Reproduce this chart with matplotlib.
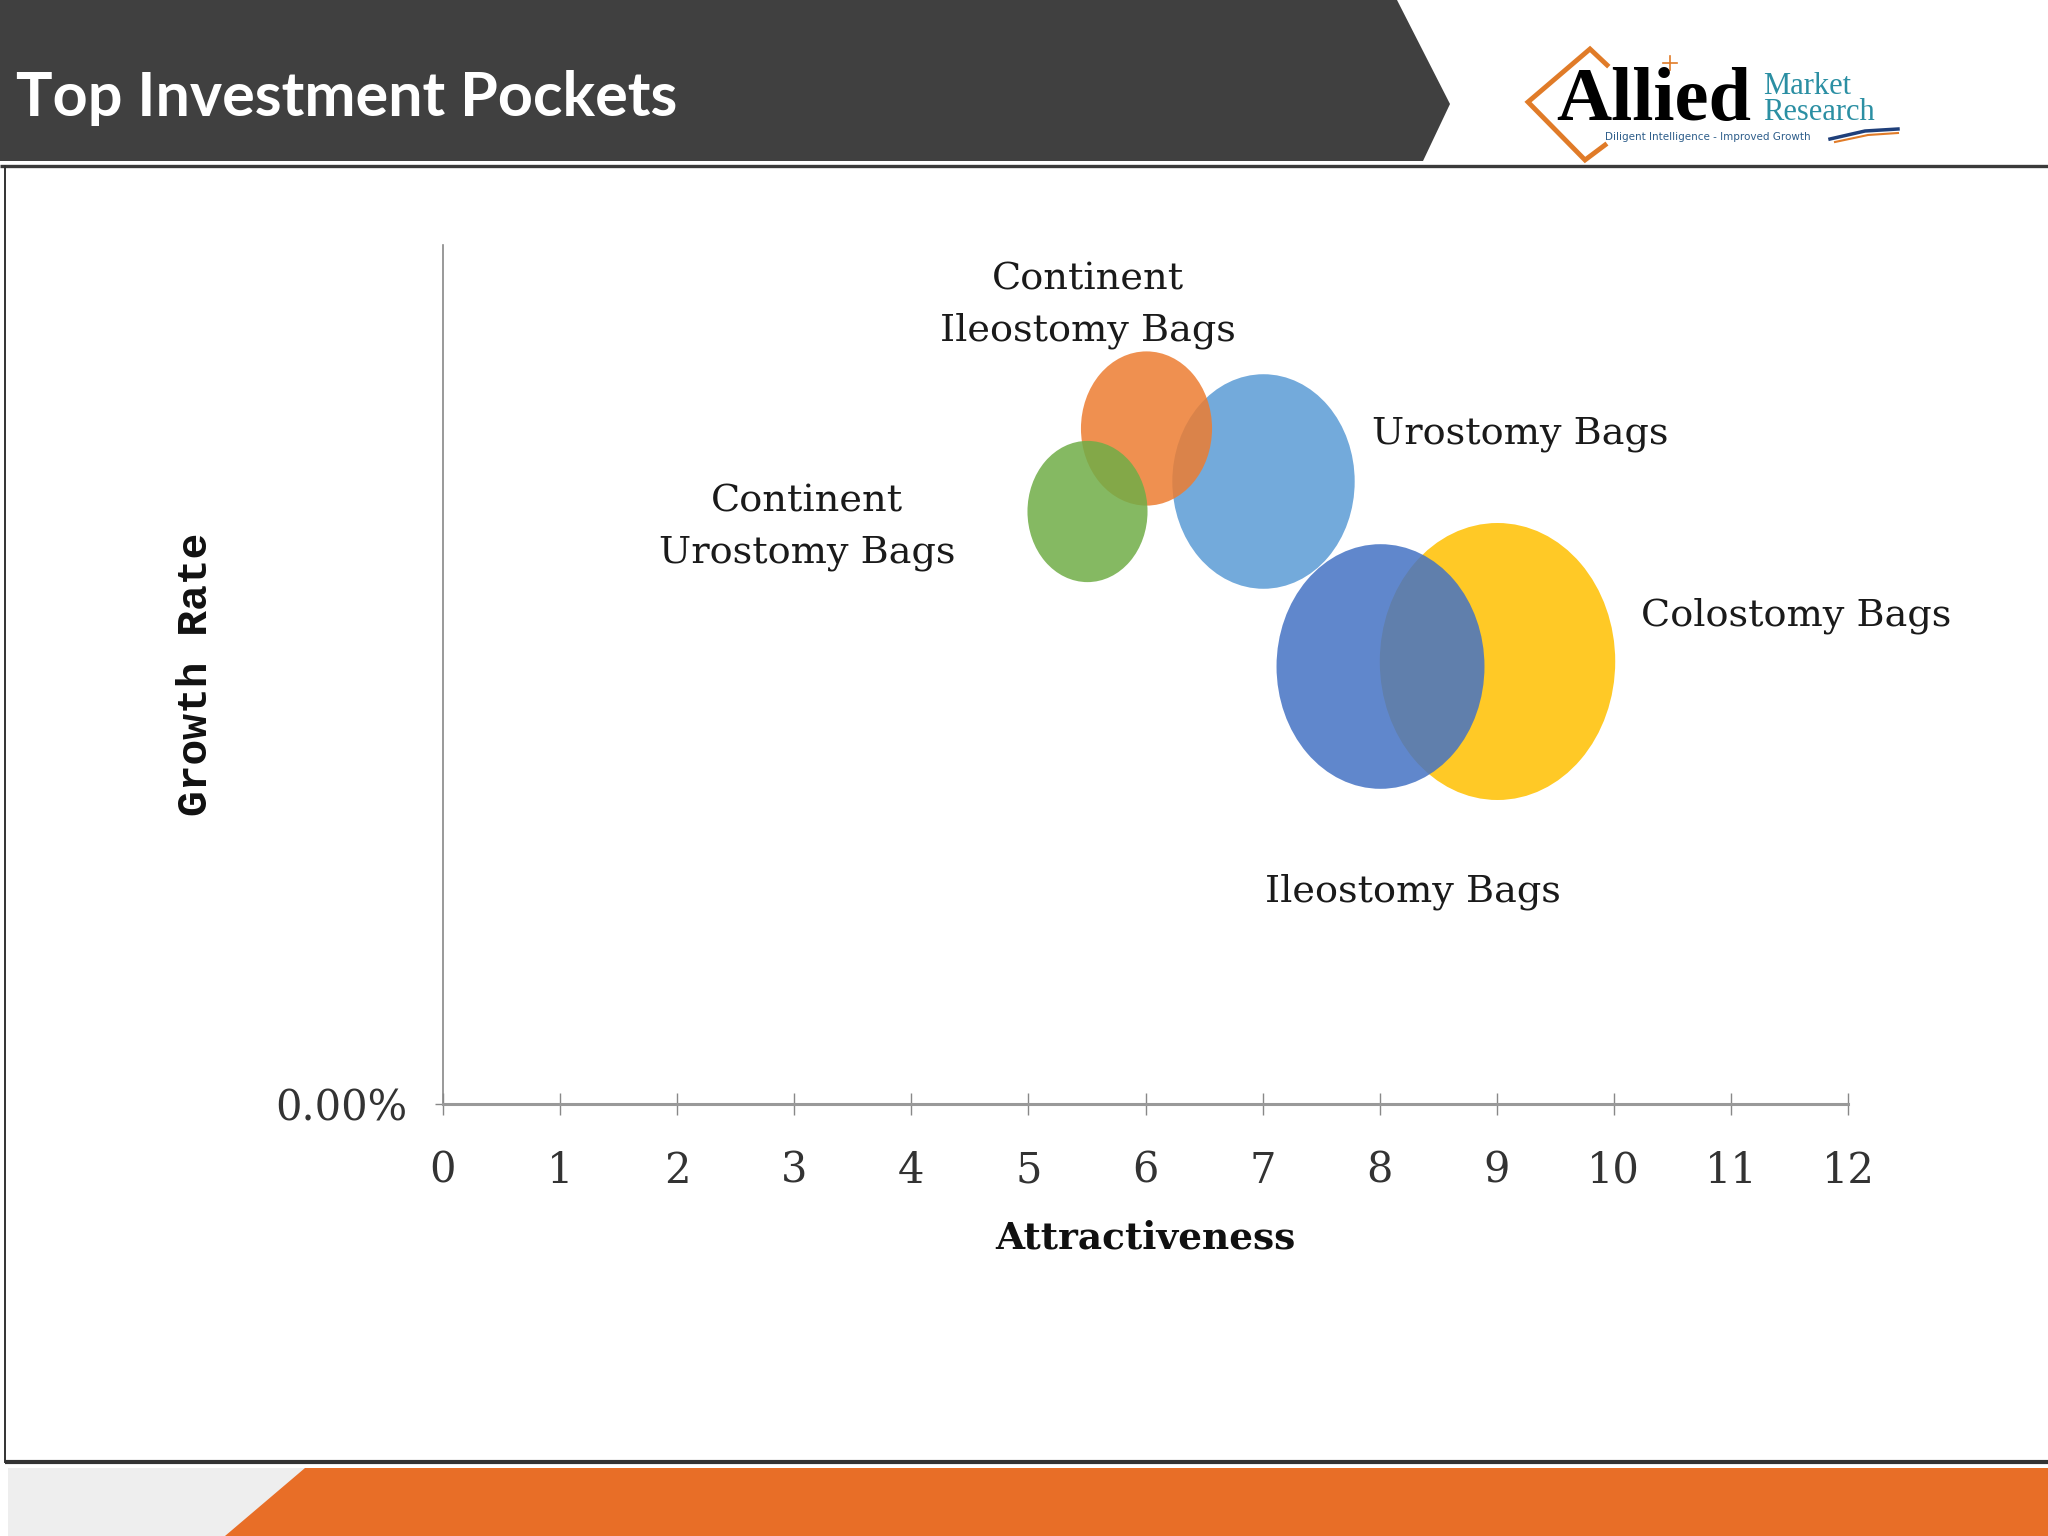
import numpy as np
import matplotlib
matplotlib.use("Agg")
from matplotlib import pyplot as plt
from matplotlib.path import Path
from matplotlib.transforms import Affine2D
from matplotlib.patches import Polygon, Rectangle

# --- data ---
segments = ["Colostomy Bags", "Ileostomy Bags", "Urostomy Bags",
            "Continent Ileostomy Bags", "Continent Urostomy Bags"]
attractiveness = [9.0, 8.0, 7.0, 6.0, 5.5]
growth_rate = [4.13, 4.08, 5.80, 6.30, 5.52]
bubble_size = [100, 78, 60, 31, 26]
x_ticks = list(range(0, 13))

colors = ["#FFC000", "#4472C4", "#5B9BD5", "#ED7D31", "#70AD47"]
labels = ["Colostomy Bags", "Ileostomy Bags", "Urostomy Bags",
          "Continent\nIleostomy Bags", "Continent\nUrostomy Bags"]
# label offsets in pixels from bubble centre (x right, y up), alignment
label_pos = [((144, 45), "left"), ((33, -226), "center"), ((109, 47), "left"),
             ((-58, 122), "center"), ((-280, -16), "center")]

W, H = 2048, 1536
fig = plt.figure(figsize=(W / 100, H / 100), dpi=100)
fig.patch.set_facecolor("white")

# background decorations in pixel coordinates
bg = fig.add_axes([0, 0, 1, 1], zorder=0)
bg.set_xlim(0, W)
bg.set_ylim(H, 0)
bg.axis("off")

bg.add_patch(Polygon([(0, 0), (1397, 0), (1450, 104), (1423, 161), (0, 161)],
                     closed=True, color="#404040", lw=0))
bg.text(16, 98, "Top Investment Pockets", color="white", fontsize=44,
        fontweight="bold", family="Lato", ha="left", va="center")
bg.plot([0, W], [166, 166], color="#3a3a3a", lw=2.4, solid_capstyle="butt")
bg.plot([5, 5], [166, 1462], color="#333333", lw=1.4)
bg.plot([5, W], [1462, 1462], color="#333333", lw=3.0, solid_capstyle="butt")
bg.add_patch(Rectangle((8, 1468), W - 8, H - 1468, color="#eeeeee", lw=0))
bg.add_patch(Polygon([(305, 1468), (W, 1468), (W, H), (225, H)],
                     closed=True, color="#E86E27", lw=0))

# logo
bg.plot([1607, 1590, 1528, 1585, 1605], [65, 49, 102, 160, 145],
        color="#E07B28", lw=3.5, solid_joinstyle="miter")
bg.plot([1670, 1670], [56, 70], color="#E07B28", lw=1.2)
bg.plot([1663, 1677], [63, 63], color="#E07B28", lw=1.2)
bg.text(1556, 120, "Allied", fontsize=55, fontweight="bold", family="Liberation Serif",
        color="black", ha="left", va="baseline")
bg.text(1763, 94, "Market", fontsize=22, family="Liberation Serif",
        color="#2b8fa3", ha="left", va="baseline")
bg.text(1763, 120, "Research", fontsize=22, family="Liberation Serif",
        color="#2b8fa3", ha="left", va="baseline")
bg.text(1605, 140, "Diligent Intelligence - Improved Growth", fontsize=7.5,
        family="DejaVu Sans", color="#2d5d8a", ha="left", va="baseline")
bg.plot([1830, 1865, 1898], [139, 131, 129], color="#1f3f7a", lw=2.5)
bg.plot([1835, 1868, 1898], [142, 135, 133], color="#E07B28", lw=1.5)

# chart
ax = fig.add_axes([443 / W, 1 - 1104 / H, 1405 / W, 859 / H], zorder=1)
ax.set_facecolor("none")
ax.set_xlim(0, 12)
ax.set_ylim(0, 8)

ellipse = Affine2D().scale(0.85, 1.0).transform_path(Path.unit_circle())
max_h_pt = 277 * 0.72
for i in range(len(segments)):
    s = (max_h_pt ** 2) * bubble_size[i] / max(bubble_size)
    ax.scatter([attractiveness[i]], [growth_rate[i]], s=s, marker=ellipse,
               color=colors[i], alpha=0.85, linewidths=0, zorder=2 + i)
    (dx, dy), ha = label_pos[i]
    ax.annotate(labels[i], (attractiveness[i], growth_rate[i]),
                xytext=(dx, dy), textcoords="offset pixels", ha=ha, va="center",
                fontsize=27.5, family="DejaVu Serif", color="#1a1a1a",
                linespacing=1.55, zorder=10)

for side in ["top", "right"]:
    ax.spines[side].set_visible(False)
ax.spines["left"].set_color("#888888")
ax.spines["left"].set_linewidth(1.2)
ax.spines["bottom"].set_color("#999999")
ax.spines["bottom"].set_linewidth(2.2)

ax.set_xticks(x_ticks)
ax.set_xticklabels([str(t) for t in x_ticks])
ax.set_yticks([0])
ax.set_yticklabels(["0.00%"])
ax.tick_params(axis="x", direction="inout", length=16, width=1.0, color="#888888",
               pad=25, labelsize=30, labelcolor="#333333")
ax.tick_params(axis="y", direction="out", length=6, width=1.0, color="#888888",
               pad=20, labelsize=30, labelcolor="#333333")
for lab in ax.get_xticklabels() + ax.get_yticklabels():
    lab.set_family("DejaVu Serif")

ax.set_xlabel("Attractiveness", fontsize=27, fontweight="bold",
              family="DejaVu Serif", color="#111111")
ax.xaxis.set_label_coords(0.5, -0.156)
ax.xaxis.label.set_va("center")
ax.set_ylabel("Growth Rate", fontsize=31, fontweight="bold",
              family="Liberation Mono", color="#111111")
ax.yaxis.set_label_coords(-0.176, 0.5)
ax.yaxis.label.set_va("center")

fig.savefig("out.png", dpi=100)
